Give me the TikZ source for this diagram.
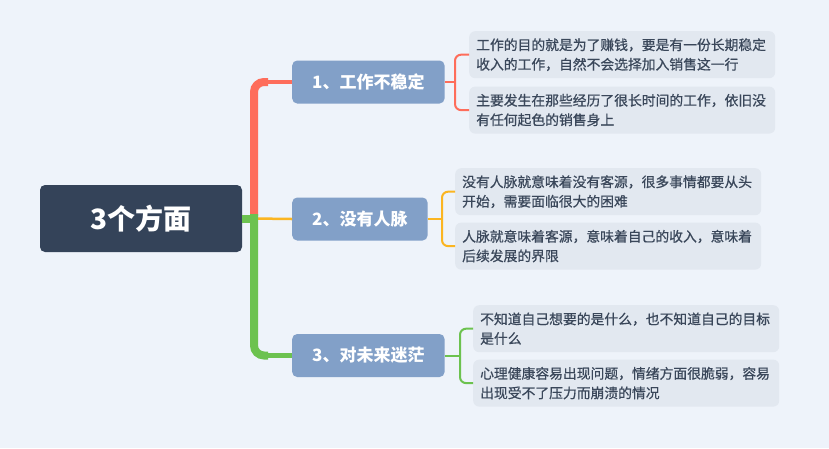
\documentclass[tikz,border=0pt]{standalone}
\usepackage{fontspec}
\setmainfont{Noto Sans CJK SC}
\newfontfamily\leaffont[FakeBold=0.7]{Noto Sans CJK SC}
\usetikzlibrary{positioning}

\definecolor{bgblue}{HTML}{EEF3FA}
\definecolor{rootblue}{HTML}{344359}
\definecolor{topicblue}{HTML}{82A0C8}
\definecolor{leafgray}{HTML}{E2E8F0}
\definecolor{leaftext}{HTML}{3A475A}
\definecolor{redline}{HTML}{FE6D5B}
\definecolor{orangeline}{HTML}{FBB521}
\definecolor{greenline}{HTML}{6CC24F}

\begin{document}
\begin{tikzpicture}[x=1pt,y=-1pt,
    root/.style={fill=rootblue,text=white,rounded corners=5pt,minimum width=202pt,minimum height=67pt,font=\fontsize{28}{30}\selectfont\bfseries},
    topic/.style={fill=topicblue,text=white,rounded corners=5pt,inner xsep=20pt,minimum height=43pt,font=\fontsize{17}{20}\selectfont\bfseries},
    leaf/.style={fill=leafgray,text=leaftext,rounded corners=6pt,minimum width=306pt,text width=292pt,inner xsep=7pt,minimum height=47pt,align=left,font=\leaffont\fontsize{13.8}{19.5}\selectfont},
    trunk/.style={line width=8pt},
    twig/.style={line width=2pt,rounded corners=6pt}]

            \useasboundingbox[fill=bgblue] (0,0) rectangle (829,448);

            \node[root] (root) at (141,218.5) {3个方面};

            \node[topic,anchor=west] (t1) at (292,82) {1、工作不稳定};

            \node[topic,anchor=west] (t2) at (292,219) {2、没有人脉};

            \node[topic,anchor=west] (t3) at (292,355.5) {3、对未来迷茫};

            \node[leaf,anchor=north west] (l1a) at (469,31) {工作的目的就是为了赚钱，要是有一份长期稳定\\收入的工作，自然不会选择加入销售这一行};

            \node[leaf] (l1b) [below=8pt of l1a] {主要发生在那些经历了很长时间的工作，依旧没\\有任何起色的销售身上};

            \node[leaf,anchor=north west] (l2a) at (455,168) {没有人脉就意味着没有客源，很多事情都要从头\\开始，需要面临很大的困难};

            \node[leaf] (l2b) [below=7pt of l2a] {人脉就意味着客源，意味着自己的收入，意味着\\后续发展的界限};

            \node[leaf,anchor=north west] (l3a) at (473,305) {不知道自己想要的是什么，也不知道自己的目标\\是什么};

            \node[leaf] (l3b) [below=7pt of l3a] {心理健康容易出现问题，情绪方面很脆弱，容易\\出现受不了压力而崩溃的情况};

            % main branches
            \coordinate (hub) at (254,218.5);
            \coordinate (c1) at (268,82);
            \coordinate (c3) at (268,355.5);

            \draw[trunk,redline,rounded corners=10pt] (254,216) |- (c1);
            \draw[redline,line width=3.5pt] (c1) -- (t1.west);

            \draw[orangeline,line width=2.5pt] (hub) -- (t2.west);

            \draw[trunk,greenline,rounded corners=10pt] (254,214) |- (c3);
            \draw[greenline,line width=4.5pt] (c3) -- (t3.west);
            \draw[greenline,line width=8pt] (root.east) -- (258,218.5);

            % leaf brackets
            \coordinate (b1) at (455,82);
            \coordinate (b2) at (442,219);
            \coordinate (b3) at (460,355.5);

            \draw[twig,redline] (t1.east) -- (b1);
            \draw[twig,redline] (l1a.west) -| (b1) |- (l1b.west);

            \draw[twig,orangeline] (t2.east) -- (b2);
            \draw[twig,orangeline] (l2a.west) -| (b2) |- (l2b.west);

            \draw[twig,greenline] (t3.east) -- (b3);
            \draw[twig,greenline] (l3a.west) -| (b3) |- (l3b.west);

        \end{tikzpicture}
\end{document}
